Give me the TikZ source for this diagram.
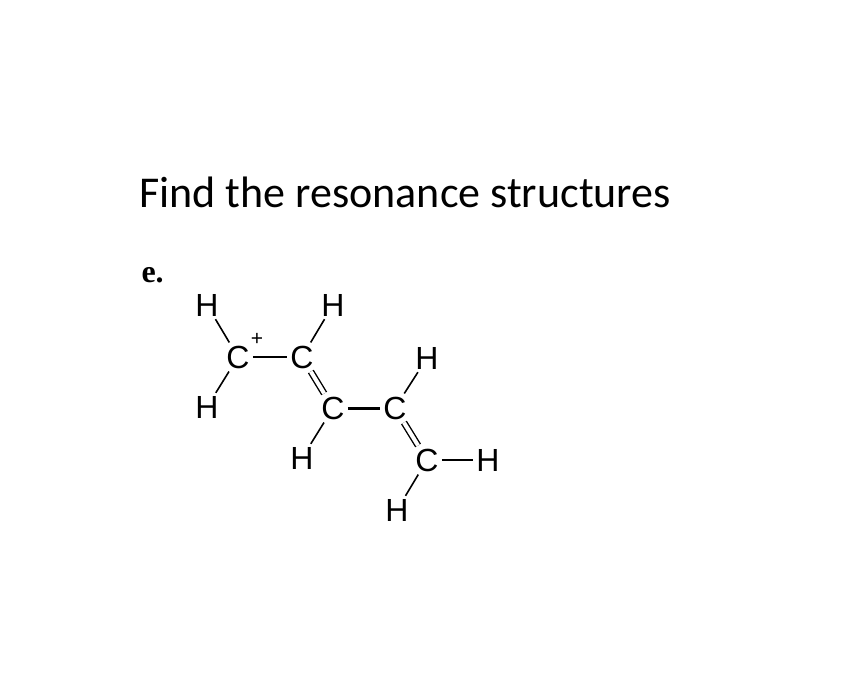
\documentclass[tikz,border=0pt]{standalone}
\usepackage{fontspec}
\setmainfont{Liberation Sans}
\newfontfamily\titlefont{Carlito}
\newfontfamily\serifb{Liberation Serif}
\begin{document}
\begin{tikzpicture}[x=1pt,y=-1pt,
  atom/.style={font=\fontsize{32}{32}\selectfont, inner sep=3pt},
  bond/.style={line width=1.6pt},
  dbond/.style={double, double distance=4pt, line width=1.4pt}]
\useasboundingbox (0,0) rectangle (843,675);
\node[anchor=base west, font=\titlefont\fontsize{44}{44}\selectfont] (title) at (136,207) {Find the resonance structures};
\node[anchor=base west, font=\serifb\bfseries\fontsize{32}{32}\selectfont] (lab) at (138,282) {e.};
\node[atom] (H1) at (207,305) {H};
\node[atom] (C1) at (238,357) {C};
\node[atom] (H2) at (207,407) {H};
\node[atom] (C2) at (302,357) {C};
\node[atom] (H3) at (333,305) {H};
\node[atom] (C3) at (333,408) {C};
\node[atom] (H4) at (302,458) {H};
\node[atom] (C4) at (395,408) {C};
\node[atom] (H5) at (427,358) {H};
\node[atom] (C5) at (427,460) {C};
\node[atom] (H6) at (488,460) {H};
\node[atom] (H7) at (397,510) {H};
\node[font=\fontsize{21}{21}\selectfont, inner sep=0pt] (plus) at (257,339) {+};
\draw[bond] (H1) -- (C1);
\draw[bond] (H2) -- (C1);
\draw[bond] (C1) -- (C2);
\draw[bond] (H3) -- (C2);
\draw[dbond] (C2) -- (C3);
\draw[bond] (H4) -- (C3);
\draw[line width=3pt] (C3) -- (C4);
\draw[bond] (H5) -- (C4);
\draw[dbond] (C4) -- (C5);
\draw[bond] (C5) -- (H6);
\draw[bond] (H7) -- (C5);
\end{tikzpicture}
\end{document}
